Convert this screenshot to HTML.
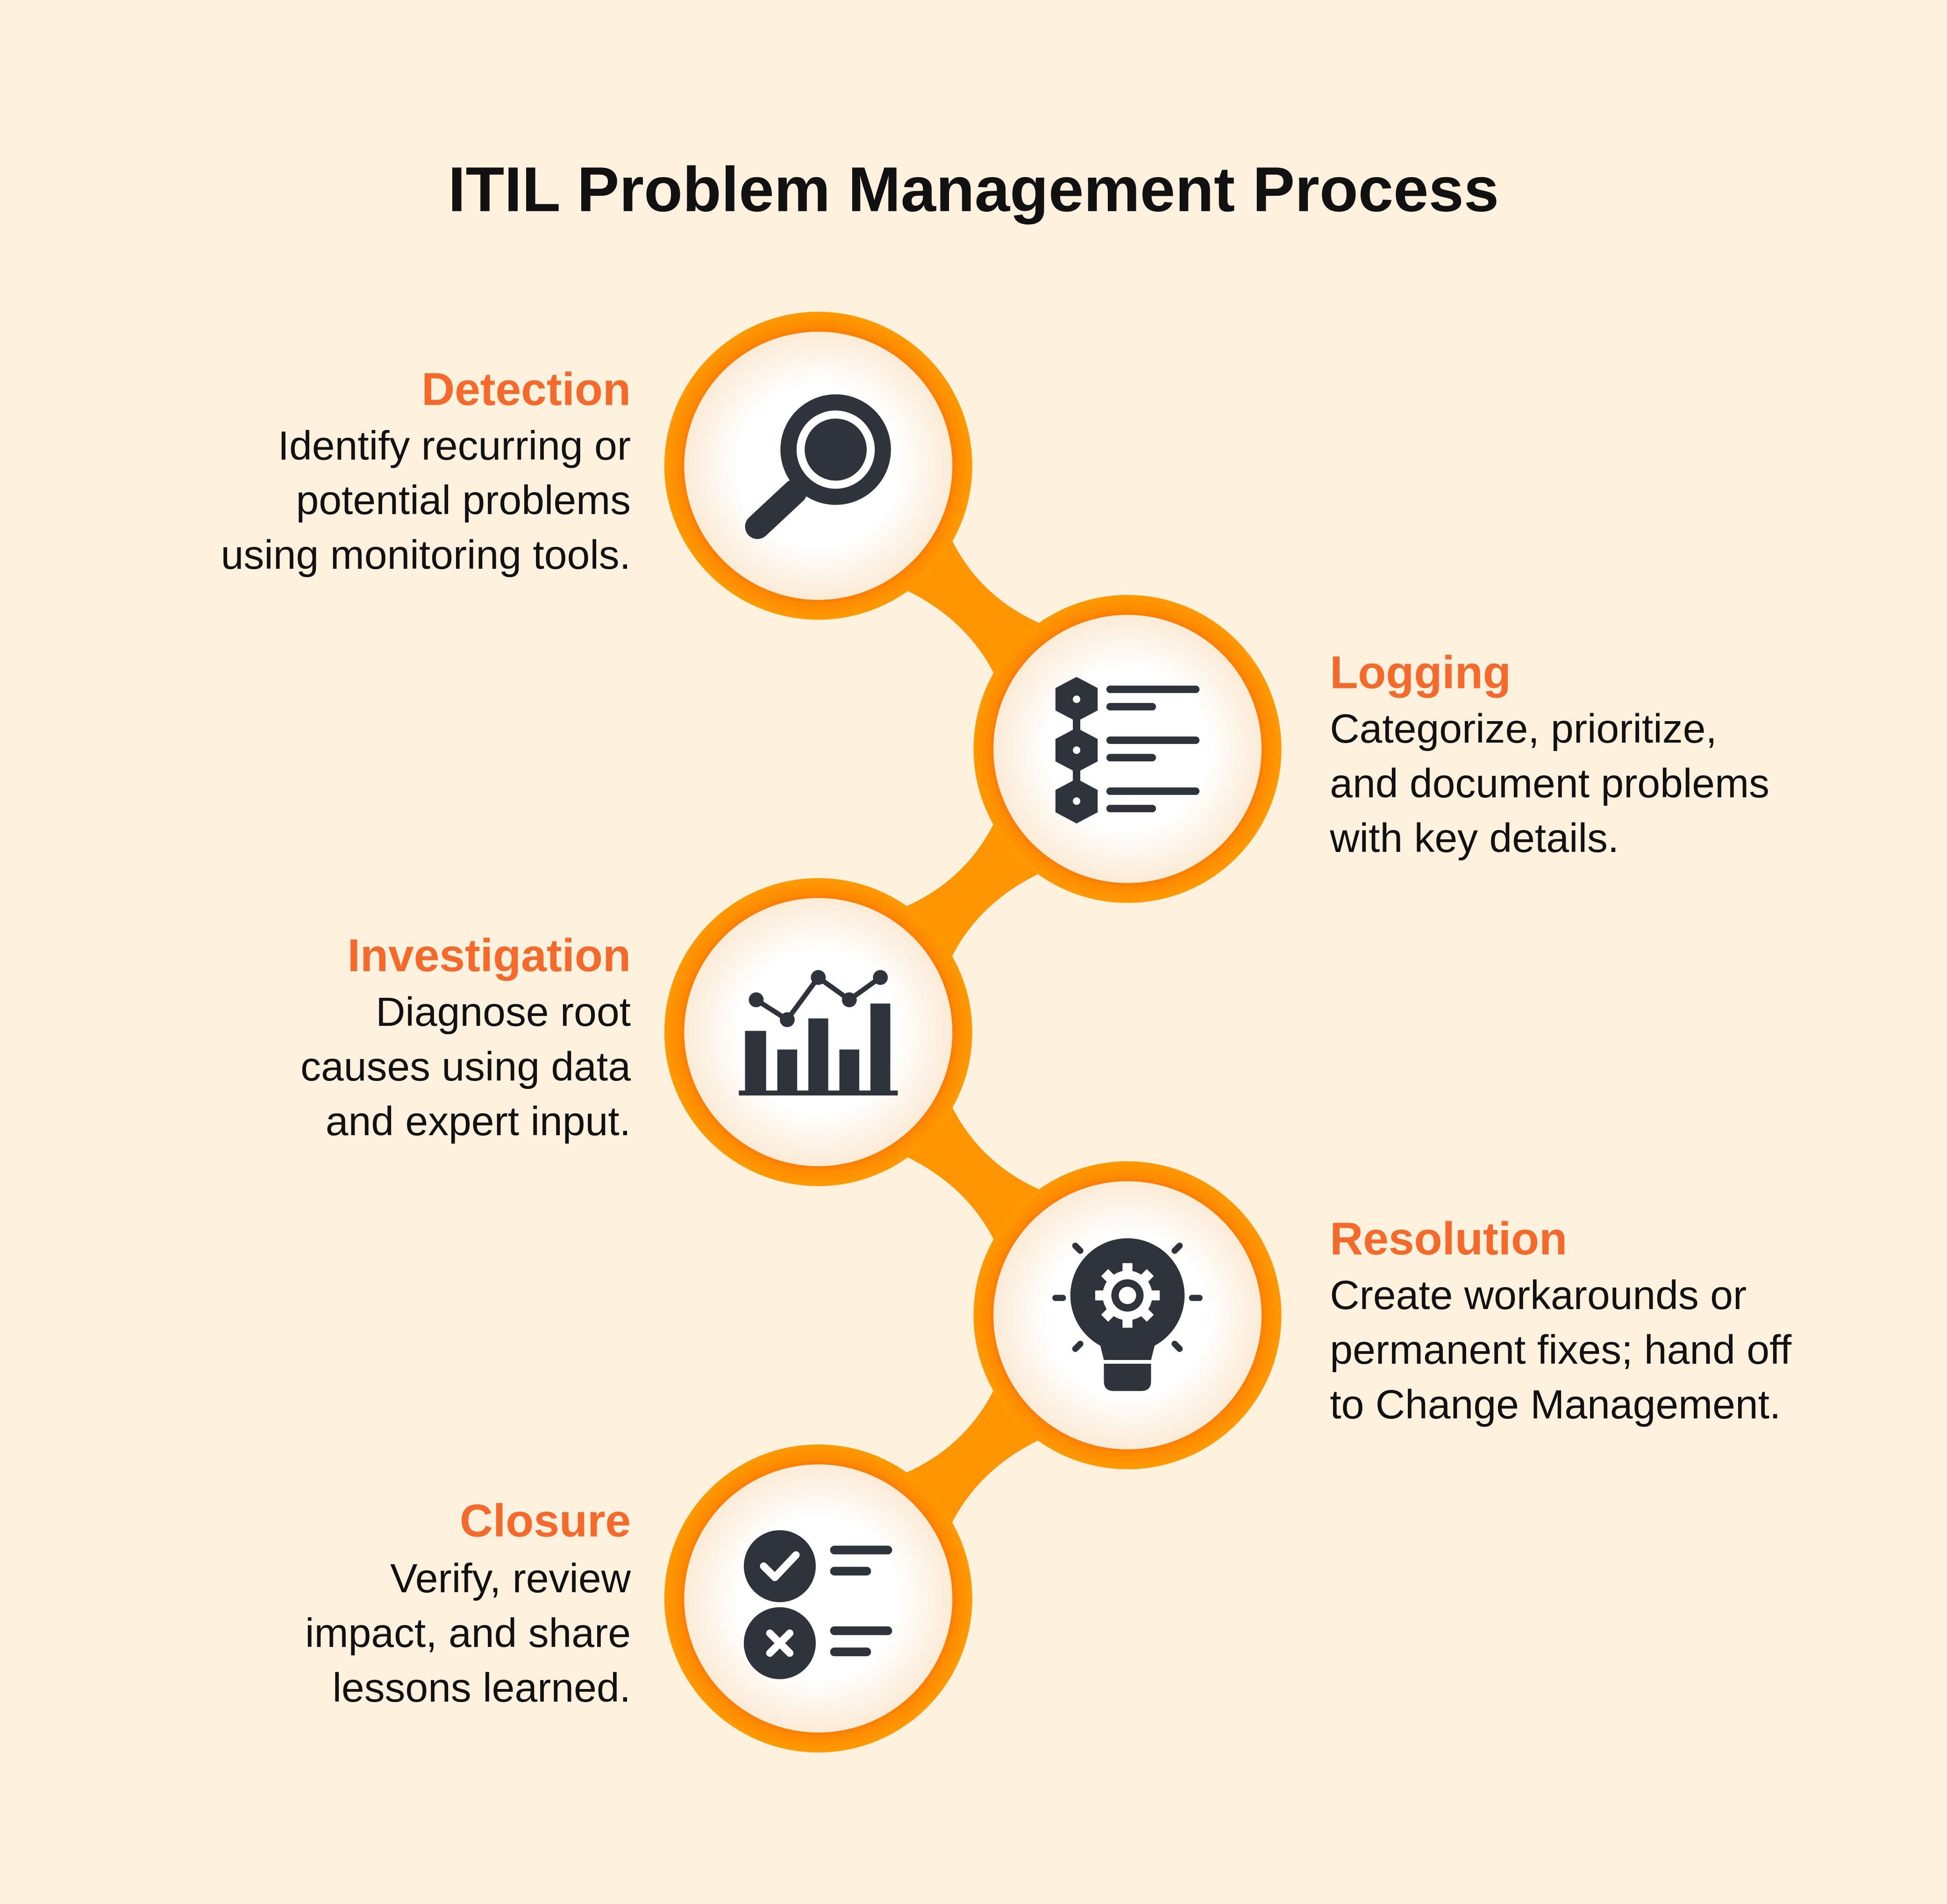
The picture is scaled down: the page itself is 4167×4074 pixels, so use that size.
<!DOCTYPE html>
<html><head><meta charset="utf-8"><style>
html,body{margin:0;padding:0;background:#FEF1DD;}
svg{display:block;}
text{font-family:"Liberation Sans",sans-serif;}
</style></head><body>
<svg width="4167" height="4074" viewBox="0 0 1568 1533" xmlns="http://www.w3.org/2000/svg">
<defs>
<radialGradient id="ring" cx="50%" cy="50%" r="50%">
<stop offset="84%" stop-color="#FF6A00"/>
<stop offset="90%" stop-color="#FF8A00"/>
<stop offset="100%" stop-color="#FF9A00"/>
</radialGradient>
<radialGradient id="inner" cx="50%" cy="50%" r="50%">
<stop offset="60%" stop-color="#FFFFFF"/>
<stop offset="100%" stop-color="#FCEBD6"/>
</radialGradient>
<path id="conn" d="M762,425 Q786,482 845,505 L805,552 Q782,498 723,472 Z" fill="#FF9500"/>
</defs>
<rect width="1568" height="1533" fill="#FEF1DD"/>
<text x="784" y="170" text-anchor="middle" font-size="51" font-weight="bold" fill="#111">ITIL Problem Management Process</text>

<use href="#conn"/>
<use href="#conn" transform="translate(0,456)"/>
<use href="#conn" transform="translate(1567,228) scale(-1,1)"/>
<use href="#conn" transform="translate(1567,684) scale(-1,1)"/>

<g>
<circle cx="659" cy="375" r="124" fill="url(#ring)"/><circle cx="659" cy="375" r="108" fill="url(#inner)"/>
<circle cx="908" cy="603" r="124" fill="url(#ring)"/><circle cx="908" cy="603" r="108" fill="url(#inner)"/>
<circle cx="659" cy="831" r="124" fill="url(#ring)"/><circle cx="659" cy="831" r="108" fill="url(#inner)"/>
<circle cx="908" cy="1059" r="124" fill="url(#ring)"/><circle cx="908" cy="1059" r="108" fill="url(#inner)"/>
<circle cx="659" cy="1287" r="124" fill="url(#ring)"/><circle cx="659" cy="1287" r="108" fill="url(#inner)"/>
</g>

<g fill="#2F333B" stroke="#2F333B">
<circle cx="673" cy="362" r="38" fill="none" stroke-width="13"/>
<circle cx="673" cy="362" r="25" stroke="none"/>
<line x1="640" y1="396" x2="610" y2="424" stroke-width="20" stroke-linecap="round"/>
</g>

<g fill="#2F333B" stroke="#2F333B" stroke-linecap="round">
<polygon points="867,545 884,554 884,572 867,581 850,572 850,554" stroke="none"/>
<polygon points="867,586 884,595 884,613 867,622 850,613 850,595" stroke="none"/>
<polygon points="867,627 884,636 884,654 867,663 850,654 850,636" stroke="none"/>
<rect x="864" y="570" width="6" height="66" stroke="none"/>
<circle cx="867" cy="563" r="3" fill="#fff" stroke="none"/>
<circle cx="867" cy="604" r="3" fill="#fff" stroke="none"/>
<circle cx="867" cy="645" r="3" fill="#fff" stroke="none"/>
<g stroke-width="6">
<line x1="894" y1="555" x2="963" y2="555"/><line x1="894" y1="569" x2="928" y2="569"/>
<line x1="894" y1="596" x2="963" y2="596"/><line x1="894" y1="610" x2="928" y2="610"/>
<line x1="894" y1="637" x2="963" y2="637"/><line x1="894" y1="651" x2="928" y2="651"/>
</g>
</g>

<g fill="#2F333B" stroke="#2F333B">
<rect x="600" y="830" width="17" height="50" stroke="none"/>
<rect x="626" y="845" width="16" height="35" stroke="none"/>
<rect x="651" y="820" width="16" height="60" stroke="none"/>
<rect x="676" y="845" width="16" height="35" stroke="none"/>
<rect x="701" y="808" width="16" height="72" stroke="none"/>
<line x1="595" y1="880" x2="723" y2="880" stroke-width="4"/>
<polyline points="609,805 634,821 659,787 684,805 709,787" fill="none" stroke-width="4"/>
<circle cx="609" cy="805" r="6" stroke="none"/><circle cx="634" cy="821" r="6" stroke="none"/>
<circle cx="659" cy="787" r="6" stroke="none"/><circle cx="684" cy="805" r="6" stroke="none"/>
<circle cx="709" cy="787" r="6" stroke="none"/>
</g>

<g fill="#2F333B" stroke="#2F333B" stroke-linecap="round">
<circle cx="908" cy="1043" r="46" stroke="none"/>
<path d="M884,1075 L932,1075 L927,1095 L889,1095 Z" stroke="none"/>
<path d="M889,1098 L927,1098 L927,1112 Q927,1120 919,1120 L897,1120 Q889,1120 889,1112 Z" stroke="none"/>
<g stroke-width="5">
<line x1="850" y1="1045" x2="856" y2="1045"/><line x1="960" y1="1045" x2="966" y2="1045"/>
<line x1="866" y1="1003" x2="870" y2="1007"/><line x1="950" y1="1003" x2="946" y2="1007"/>
<line x1="866" y1="1086" x2="870" y2="1082"/><line x1="950" y1="1086" x2="946" y2="1082"/>
</g>
<g fill="#fff" stroke="none">
<circle cx="908" cy="1043" r="20"/>
<rect x="904" y="1017" width="8" height="52"/><rect x="882" y="1039" width="52" height="8"/>
<rect x="904" y="1017" width="8" height="52" transform="rotate(45 908 1043)"/>
<rect x="904" y="1017" width="8" height="52" transform="rotate(-45 908 1043)"/>
</g>
<circle cx="908" cy="1043" r="13" stroke="none"/>
<circle cx="908" cy="1043" r="7" fill="#fff" stroke="none"/>
</g>

<g fill="#2F333B" stroke="#2F333B" stroke-linecap="round" stroke-linejoin="round">
<circle cx="628" cy="1261" r="29" stroke="none"/>
<circle cx="628" cy="1323" r="29" stroke="none"/>
<polyline points="615,1261 624,1270 641,1252" fill="none" stroke="#fff" stroke-width="6"/>
<line x1="620" y1="1315" x2="636" y2="1331" stroke="#fff" stroke-width="6"/>
<line x1="636" y1="1315" x2="620" y2="1331" stroke="#fff" stroke-width="6"/>
<g stroke-width="7">
<line x1="672" y1="1248" x2="715" y2="1248"/><line x1="672" y1="1265" x2="698" y2="1265"/>
<line x1="672" y1="1313" x2="715" y2="1313"/><line x1="672" y1="1330" x2="698" y2="1330"/>
</g>
</g>

<g font-size="37" font-weight="bold" fill="#F5692B">
<text x="508" y="326" text-anchor="end">Detection</text>
<text x="1071" y="554">Logging</text>
<text x="508" y="782" text-anchor="end">Investigation</text>
<text x="1071" y="1010">Resolution</text>
<text x="508" y="1237" text-anchor="end">Closure</text>
</g>
<g font-size="33" fill="#111">
<g text-anchor="end">
<text x="508" y="370">Identify recurring or</text>
<text x="508" y="414">potential problems</text>
<text x="508" y="458">using monitoring tools.</text>
<text x="508" y="826">Diagnose root</text>
<text x="508" y="870">causes using data</text>
<text x="508" y="914">and expert input.</text>
<text x="508" y="1282">Verify, review</text>
<text x="508" y="1326">impact, and share</text>
<text x="508" y="1370">lessons learned.</text>
</g>
<text x="1071" y="598">Categorize, prioritize,</text>
<text x="1071" y="642">and document problems</text>
<text x="1071" y="686">with key details.</text>
<text x="1071" y="1054">Create workarounds or</text>
<text x="1071" y="1098">permanent fixes; hand off</text>
<text x="1071" y="1142">to Change Management.</text>
</g>
</svg>
</body></html>
